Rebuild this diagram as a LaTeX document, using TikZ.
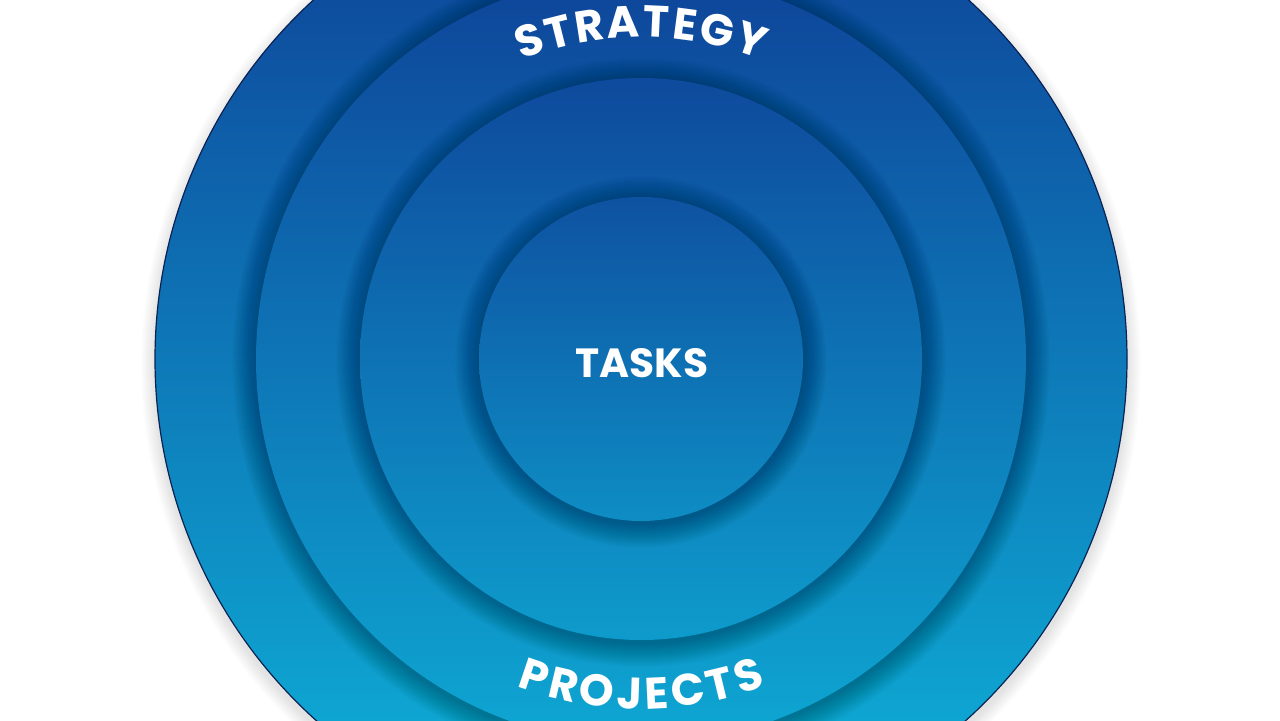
\documentclass[tikz,border=0pt]{standalone}
\usepackage{fontspec}
\setmainfont{Poppins}
\usetikzlibrary{decorations.text}
\definecolor{dk}{RGB}{14,62,150}
\definecolor{lt}{RGB}{14,180,218}
\newcommand\lblfnt{\fontsize{11.6pt}{13pt}\selectfont\bfseries}
\newcommand\arcfnt{\fontsize{12.6pt}{14pt}\selectfont\bfseries}
\tikzset{
  lbl/.style={text=white, font=\lblfnt, inner sep=0pt},
  arclbl/.style 2 args={decorate, decoration={text effects along path, text={#1}, text align=center,
    text effects/.cd, text along path, characters={text=white, font=\arcfnt, inner xsep=#2}}},
  ring shadow/.style={black, opacity=0.011}
}
\begin{document}
\begin{tikzpicture}[x=0.1mm,y=0.1mm]
\useasboundingbox (0,0) rectangle (1280,720);
\clip (0,0) rectangle (1280,720);
\fill[white] (0,0) rectangle (1280,720);
\coordinate (c) at (641,361);
\coordinate (cs) at (641,355);
\coordinate (ci) at (641,358);
% outer circle and its soft shadow on white
\foreach \k in {1,...,14} \fill[black, opacity=0.006] (cs) circle ({486+\k});
\shade[top color=dk, bottom color=lt] (c) circle (486);
\draw[dk!55!black, line width=0.12mm] (c) circle (486);
% ring 2
\foreach \k in {1,...,24} \fill[ring shadow] (ci) circle ({385+\k});
\shade[top color=lt!5!dk, bottom color=lt!89!dk] (c) circle (385);
% ring 3
\foreach \k in {1,...,24} \fill[ring shadow] (ci) circle ({281+\k});
\shade[top color=lt!10!dk, bottom color=lt!79!dk] (c) circle (281);
% inner circle
\foreach \k in {1,...,24} \fill[ring shadow] (ci) circle ({162+\k});
\shade[top color=lt!17!dk, bottom color=lt!67!dk] (c) circle (162);
% labels
\node[lbl] (tasks) at (642,357) {TASKS};
\path[arclbl={STRATEGY}{0.33pt}] ([shift={(118:322)}]c) arc[start angle=118, end angle=62, radius=322];
\path[arclbl={PROJECTS}{0.55pt}] ([shift={(242:350)}]c) arc[start angle=242, end angle=298, radius=350];
\end{tikzpicture}
\end{document}
